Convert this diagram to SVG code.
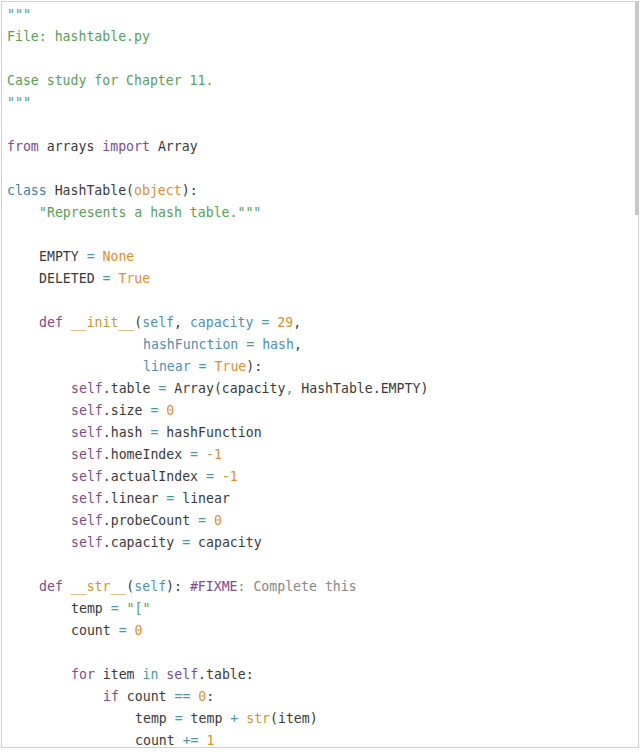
<svg xmlns="http://www.w3.org/2000/svg" width="640" height="754" viewBox="0 0 640 754">
<style>
text{font-family:"DejaVu Sans Mono","Liberation Mono",monospace;font-size:13.2px;fill:#3a3a3a;white-space:pre}
.s{fill:#5a9e5a}.k{fill:#7c4d8c}.b{fill:#3f7fa8}.n{fill:#e08f2a}.o{fill:#4a9aa0}.f{fill:#c79a2e}.c{fill:#888}.p{fill:#4f8fb5}
</style>
<rect x="0" y="0" width="640" height="754" fill="#fff"/>
<rect x="1.5" y="1.5" width="637" height="746" fill="none" stroke="#d0d0d0"/>
<rect x="635" y="2" width="4" height="213" fill="#c8c8c8"/>
<g id="code" transform="translate(0,2)">
<text x="7" y="17" class="s">"""</text>
<text x="7" y="39" class="s">File: hashtable.py</text>
<text x="7" y="83" class="s">Case study for Chapter 11.</text>
<text x="7" y="105" class="s">"""</text>
<text x="7" y="149"><tspan class="k">from</tspan> arrays <tspan class="k">import</tspan> Array</text>
<text x="7" y="193"><tspan class="b">class</tspan> HashTable(<tspan class="n">object</tspan>):</text>
<text x="39" y="215" class="s">"Represents a hash table."""</text>
<text x="39" y="259">EMPTY <tspan class="o">=</tspan> <tspan class="n">None</tspan></text>
<text x="39" y="281">DELETED <tspan class="o">=</tspan> <tspan class="n">True</tspan></text>
<text x="39" y="325"><tspan class="k">def</tspan> <tspan class="f">__init__</tspan>(<tspan class="p">self</tspan>, <tspan class="p">capacity</tspan> <tspan class="o">=</tspan> <tspan class="n">29</tspan>,</text>
<text x="143" y="347"><tspan class="p">hashFunction</tspan> <tspan class="o">=</tspan> <tspan class="p">hash</tspan>,</text>
<text x="143" y="369"><tspan class="p">linear</tspan> <tspan class="o">=</tspan> <tspan class="n">True</tspan>):</text>
<text x="71" y="391"><tspan class="k">self</tspan>.table <tspan class="o">=</tspan> Array(capacity<tspan class="o">,</tspan> HashTable.EMPTY)</text>
<text x="71" y="413"><tspan class="k">self</tspan>.size <tspan class="o">=</tspan> <tspan class="n">0</tspan></text>
<text x="71" y="435"><tspan class="k">self</tspan>.hash <tspan class="o">=</tspan> hashFunction</text>
<text x="71" y="457"><tspan class="k">self</tspan>.homeIndex <tspan class="o">=</tspan> <tspan class="n">-1</tspan></text>
<text x="71" y="479"><tspan class="k">self</tspan>.actualIndex <tspan class="o">=</tspan> <tspan class="n">-1</tspan></text>
<text x="71" y="501"><tspan class="k">self</tspan>.linear <tspan class="o">=</tspan> linear</text>
<text x="71" y="523"><tspan class="k">self</tspan>.probeCount <tspan class="o">=</tspan> <tspan class="n">0</tspan></text>
<text x="71" y="545"><tspan class="k">self</tspan>.capacity <tspan class="o">=</tspan> capacity</text>
<text x="39" y="589"><tspan class="k">def</tspan> <tspan class="f">__str__</tspan>(<tspan class="p">self</tspan>): <tspan class="k">#FIXME</tspan><tspan class="c">: Complete this</tspan></text>
<text x="71" y="611">temp <tspan class="o">=</tspan> <tspan class="s">"["</tspan></text>
<text x="71" y="633">count <tspan class="o">=</tspan> <tspan class="n">0</tspan></text>
<text x="71" y="677"><tspan class="k">for</tspan> item <tspan class="o">in</tspan> <tspan class="k">self</tspan>.table:</text>
<text x="103" y="699"><tspan class="k">if</tspan> count <tspan class="o">==</tspan> <tspan class="n">0</tspan>:</text>
<text x="135" y="721">temp <tspan class="o">=</tspan> temp <tspan class="o">+</tspan> <tspan class="f">str</tspan>(item)</text>
<text x="135" y="743">count <tspan class="o">+=</tspan> <tspan class="n">1</tspan></text>
</g>
</svg>
